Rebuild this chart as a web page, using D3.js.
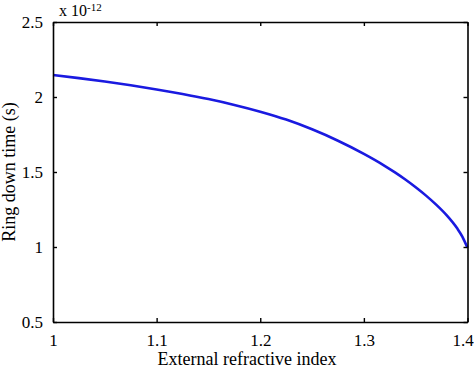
<!DOCTYPE html>
<html>
<head>
<meta charset="utf-8">
<script src="https://cdn.jsdelivr.net/npm/d3@7"></script>
<style>
  html, body { margin: 0; padding: 0; background: #fff; }
  svg { display: block; }
  text { font-family: "Liberation Serif", "Times New Roman", serif; fill: #000; }
</style>
</head>
<body>
<svg id="chart" width="474" height="368"></svg>
<script>
// Data (ring down time, in units of 1e-12 s)
const refractiveIndex = [1.00, 1.025, 1.05, 1.075, 1.10, 1.125, 1.15, 1.175, 1.20, 1.225, 1.25, 1.275, 1.30, 1.31, 1.32, 1.33, 1.34, 1.35, 1.36, 1.37, 1.38, 1.39, 1.395, 1.40];
const ringDownTime   = [2.147, 2.126, 2.103, 2.078, 2.0505, 2.020, 1.986, 1.947, 1.902, 1.8495, 1.7845, 1.7085, 1.621, 1.5825, 1.5415, 1.4975, 1.450, 1.3985, 1.3425, 1.2805, 1.2105, 1.1245, 1.0695, 0.9945];
const xTicks = [1, 1.1, 1.2, 1.3, 1.4];
const yTicks = [0.5, 1, 1.5, 2, 2.5];
const xTickLabels = ["1", "1.1", "1.2", "1.3", "1.4"];
const yTickLabels = ["0.5", "1", "1.5", "2", "2.5"];

const W = 474, H = 368;
const margin = { left: 53, right: 6.5, top: 22, bottom: 46 };
const svg = d3.select("#chart");

const x = d3.scaleLinear().domain([1, 1.4]).range([margin.left, W - margin.right]);
const y = d3.scaleLinear().domain([0.5, 2.5]).range([H - margin.bottom, margin.top]);

const tickLen = 4;

// Curve
const line = d3.line()
  .x((d, i) => x(refractiveIndex[i]))
  .y(d => y(d))
  .curve(d3.curveMonotoneX);

svg.append("path")
  .datum(ringDownTime)
  .attr("d", line)
  .attr("fill", "none")
  .attr("stroke", "#1a1ae0")
  .attr("stroke-width", 2.6);

// Axes (inward ticks, MATLAB style box)
const fmtX = (d, i) => xTickLabels[i];
const fmtY = (d, i) => yTickLabels[i];

const gx = svg.append("g")
  .attr("transform", `translate(0,${H - margin.bottom})`)
  .call(d3.axisBottom(x).tickValues(xTicks).tickFormat(fmtX).tickSizeInner(-tickLen).tickSizeOuter(0).tickPadding(12));
const gxTop = svg.append("g")
  .attr("transform", `translate(0,${margin.top})`)
  .call(d3.axisTop(x).tickValues(xTicks).tickFormat("").tickSizeInner(-tickLen).tickSizeOuter(0));
const gy = svg.append("g")
  .attr("transform", `translate(${margin.left},0)`)
  .call(d3.axisLeft(y).tickValues(yTicks).tickFormat(fmtY).tickSizeInner(-tickLen).tickSizeOuter(0).tickPadding(10));
const gyRight = svg.append("g")
  .attr("transform", `translate(${W - margin.right},0)`)
  .call(d3.axisRight(y).tickValues(yTicks).tickFormat("").tickSizeInner(-tickLen).tickSizeOuter(0));

[gx, gxTop, gy, gyRight].forEach(g => {
  g.select(".domain").attr("stroke", "#000").attr("stroke-width", 1.6);
  g.selectAll(".tick line").attr("stroke", "#000").attr("stroke-width", 1.4);
  g.selectAll(".tick text")
    .style("font-family", "'Liberation Serif', 'Times New Roman', serif")
    .style("font-size", "17px")
    .attr("fill", "#000");
});
gx.selectAll(".tick text").attr("dy", "0.71em");
// keep the last x label inside the window (as in the reference)
gx.selectAll(".tick text").filter(d => d === 1.4).attr("dx", -5);
gy.selectAll(".tick text").attr("dy", "0.35em");

// Axis titles
svg.append("text")
  .attr("x", 247)
  .attr("y", 365)
  .attr("text-anchor", "middle")
  .style("font-size", "18px")
  .text("External refractive index");

svg.append("text")
  .attr("transform", `translate(15,${(y(0.5) + y(2.5)) / 2}) rotate(-90)`)
  .attr("text-anchor", "middle")
  .style("font-size", "18px")
  .text("Ring down time (s)");

// Exponent label
const expo = svg.append("text")
  .attr("x", 59)
  .attr("y", 16)
  .style("font-size", "16px");
expo.append("tspan").text("x 10");
expo.append("tspan").attr("dy", -5).style("font-size", "11px").text("-12");
</script>
</body>
</html>
